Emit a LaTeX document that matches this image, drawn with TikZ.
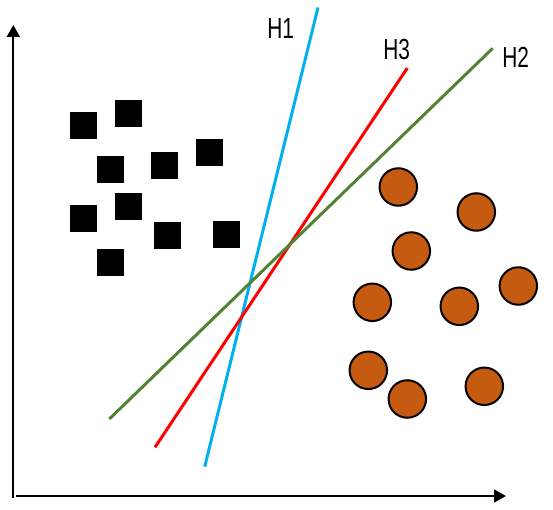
\documentclass[tikz,border=0pt]{standalone}
\usepackage{fontspec}
\setmainfont[FakeStretch=0.72]{Liberation Sans}
\usetikzlibrary{arrows.meta}
\definecolor{ptorange}{HTML}{C55A11}
\definecolor{hblue}{HTML}{00B0F0}
\definecolor{hred}{HTML}{FF0000}
\definecolor{hgreen}{HTML}{548235}
\begin{document}
\begin{tikzpicture}[x=1pt,y=-1pt,
  sq/.style={fill=black,minimum size=27pt,inner sep=0pt,outer sep=0pt},
  dot/.style={circle,fill=ptorange,draw=black,line width=2pt,minimum size=37.5pt,inner sep=0pt},
  hyp/.style={line width=3pt},
  axis/.style={line width=1.8pt,-{Triangle[length=12pt,width=13pt]}},
  lab/.style={font=\fontsize{29}{29}\selectfont,inner sep=0pt}]
\useasboundingbox (0,0) rectangle (553,510);
% axes
\coordinate (o1) at (13.3,498);
\coordinate (ytip) at (13.3,25);
\coordinate (o2) at (16,496);
\coordinate (xtip) at (506,496);
\draw[axis] (o1) -- (ytip);
\draw[axis] (o2) -- (xtip);
% squares
\node[sq] (s1) at (83.3,125.3) {};
\node[sq] (s2) at (128.5,113.3) {};
\node[sq] (s3) at (110.3,169.3) {};
\node[sq] (s4) at (164.3,165.3) {};
\node[sq] (s5) at (209.3,152.3) {};
\node[sq] (s6) at (83.3,218.3) {};
\node[sq] (s7) at (128.3,206.3) {};
\node[sq] (s8) at (167.3,235.3) {};
\node[sq] (s9) at (226.3,234.3) {};
\node[sq] (s10) at (110.3,262.3) {};
% circles
\node[dot] (c1) at (398.3,187) {};
\node[dot] (c2) at (476.3,212) {};
\node[dot] (c3) at (411.3,251) {};
\node[dot] (c4) at (372.3,302.3) {};
\node[dot] (c5) at (459.3,306.3) {};
\node[dot] (c6) at (518.3,286) {};
\node[dot] (c7) at (368.3,370.3) {};
\node[dot] (c8) at (407.3,399) {};
\node[dot] (c9) at (484.3,386.3) {};
% hyperplanes
\coordinate (h1a) at (204.7,466.7);
\coordinate (h1b) at (318,7.5);
\coordinate (h3a) at (155,447.3);
\coordinate (h3b) at (407.3,68);
\coordinate (h2a) at (109.3,419);
\coordinate (h2b) at (492.7,48.3);
\draw[hyp,hblue] (h1a) -- (h1b);
\draw[hyp,hred] (h3a) -- (h3b);
\draw[hyp,hgreen] (h2a) -- (h2b);
% labels
\node[lab] (l1) at (280.7,28.3) {H1};
\node[lab] (l3) at (396.7,49.3) {H3};
\node[lab] (l2) at (515.7,57.3) {H2};
\end{tikzpicture}
\end{document}
